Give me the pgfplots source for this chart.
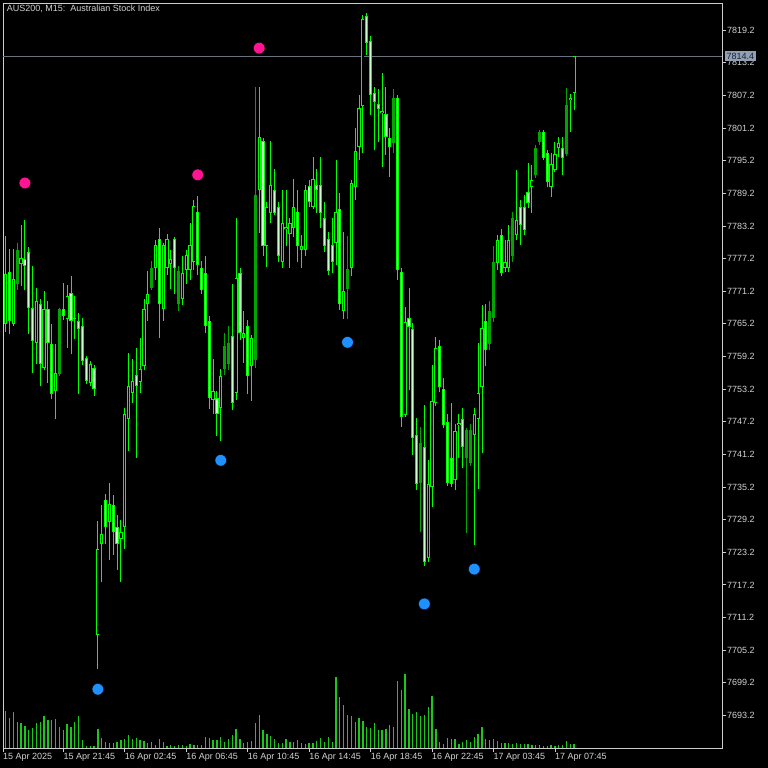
\documentclass[border=0pt]{standalone}
\usepackage{pgfplots}
\pgfplotsset{compat=1.18}
\usepackage{pgfplotstable}
\usepackage{fontspec}
\setmainfont{Liberation Sans}

\definecolor{cl}{RGB}{0,255,0}
\definecolor{cdk}{RGB}{0,165,0}
\definecolor{cpale}{RGB}{200,255,200}
\definecolor{volc}{RGB}{25,200,25}
\definecolor{pinkdot}{RGB}{255,20,147}
\definecolor{bluedot}{RGB}{30,144,255}
\definecolor{framec}{RGB}{205,205,205}
\definecolor{txtc}{RGB}{210,210,210}
\definecolor{bidc}{RGB}{105,115,128}
\definecolor{boxc}{RGB}{145,160,178}
\definecolor{boxt}{RGB}{25,35,55}

% bull candles (hollow)
\pgfplotstableread{
n o h l c
0 7765.2 7781.3 7763.7 7774.3
2 7765.2 7778.9 7764.8 7773.4
4 7776.2 7783.4 7772.1 7777.3
8 7761.7 7771.8 7757.8 7769.4
10 7757.1 7771.2 7756.7 7767.9
13 7752.8 7761.5 7747.7 7756.1
16 7766.1 7772.3 7760.7 7770.3
18 7766.1 7770.3 7762.4 7766.3
22 7754.3 7758.4 7753.8 7757.8
24 7708.0 7728.9 7701.7 7723.8
25 7724.7 7731.9 7717.7 7726.5
27 7728.8 7735.9 7721.8 7732.1
30 7725.6 7729.1 7717.7 7726.9
31 7727.8 7749.7 7723.8 7748.6
32 7747.7 7759.8 7741.8 7753.8
33 7752.5 7758.7 7750.6 7754.7
35 7754.5 7762.6 7752.5 7756.9
36 7757.4 7769.8 7756.7 7767.9
37 7768.8 7774.9 7765.7 7770.7
39 7775.5 7780.6 7773.2 7779.7
41 7767.9 7780.0 7765.7 7779.7
42 7775.5 7781.7 7774.2 7780.8
43 7776.2 7778.8 7771.6 7777.1
46 7769.8 7777.7 7768.6 7774.5
47 7775.1 7778.8 7772.5 7777.8
48 7775.1 7783.7 7773.2 7779.7
49 7776.6 7788.0 7775.1 7786.8
54 7751.2 7758.7 7748.6 7752.8
56 7749.7 7756.9 7743.6 7755.6
60 7752.5 7784.6 7751.2 7773.6
62 7762.6 7767.5 7758.0 7763.5
64 7757.4 7763.1 7751.0 7762.6
66 7789.8 7808.7 7781.9 7799.5
68 7779.5 7787.6 7775.6 7786.7
69 7785.6 7798.8 7783.7 7790.7
72 7776.6 7789.8 7775.5 7783.7
73 7782.6 7789.8 7779.5 7783.0
74 7781.7 7784.6 7775.5 7783.7
75 7782.8 7791.8 7781.2 7786.7
77 7778.8 7781.5 7775.5 7779.5
78 7778.8 7790.7 7777.7 7789.8
80 7786.7 7795.9 7786.3 7791.8
86 7780.0 7795.3 7776.0 7785.7
88 7767.5 7782.1 7766.1 7771.2
90 7775.5 7791.6 7774.0 7791.1
91 7790.3 7801.2 7788.0 7797.0
92 7797.7 7807.3 7795.3 7804.9
93 7805.2 7822.0 7796.6 7821.2
98 7803.9 7811.3 7794.0 7804.3
104 7748.4 7768.3 7748.1 7765.5
110 7722.1 7740.1 7721.4 7735.7
111 7735.2 7757.6 7731.5 7751.0
112 7750.6 7762.8 7750.1 7760.7
117 7736.5 7746.8 7734.6 7745.5
118 7746.6 7748.6 7740.5 7747.0
122 7744.7 7749.7 7724.5 7748.6
123 7747.7 7761.7 7734.8 7752.5
124 7753.6 7768.6 7741.4 7764.4
128 7776.4 7781.5 7775.1 7780.6
130 7775.5 7780.6 7774.7 7776.6
131 7775.5 7783.4 7774.7 7780.6
133 7781.5 7793.5 7780.6 7784.3
137 7790.3 7794.4 7785.6 7791.6
142 7790.3 7796.6 7788.5 7794.6
143 7793.5 7798.6 7793.1 7796.4
144 7797.5 7799.5 7795.9 7798.4
147 7806.3 7807.4 7800.5 7806.7
148 7807.6 7814.4 7804.5 7814.4
}\bull

% bear candles (filled)
\pgfplotstableread{
n o h l c
1 7774.7 7778.9 7763.3 7765.7
5 7777.1 7784.3 7771.4 7775.8
6 7778.4 7779.3 7763.3 7768.1
7 7768.1 7775.8 7756.1 7762.0
9 7768.8 7769.8 7753.8 7757.8
11 7767.9 7769.4 7754.3 7761.7
12 7761.5 7765.2 7751.4 7752.3
15 7767.9 7772.7 7765.9 7766.6
17 7770.9 7774.0 7759.6 7765.7
19 7765.7 7767.2 7752.3 7764.2
20 7764.8 7766.3 7757.6 7758.4
21 7758.9 7759.3 7754.1 7754.7
23 7757.1 7757.6 7751.9 7753.2
26 7732.8 7733.9 7724.7 7727.8
28 7731.9 7733.7 7722.7 7726.9
29 7727.8 7730.0 7719.9 7724.7
34 7755.8 7760.7 7740.5 7753.8
40 7780.8 7782.8 7762.6 7768.8
44 7780.8 7781.2 7770.7 7775.5
50 7785.7 7788.7 7774.2 7776.0
51 7775.5 7776.7 7770.7 7771.4
52 7774.5 7777.7 7763.5 7764.8
53 7765.7 7766.6 7749.5 7751.5
55 7751.5 7752.8 7744.6 7748.6
59 7762.9 7772.5 7749.3 7750.6
61 7774.5 7775.5 7762.2 7763.5
63 7764.8 7765.9 7752.3 7755.6
67 7798.8 7799.4 7777.7 7779.5
70 7789.8 7793.7 7785.2 7785.6
71 7786.7 7787.6 7776.6 7777.7
76 7785.7 7789.8 7776.6 7779.5
79 7790.5 7791.6 7786.7 7787.6
81 7790.7 7793.7 7785.6 7789.8
82 7790.7 7795.9 7782.8 7785.6
83 7784.6 7787.6 7778.4 7779.5
84 7780.8 7782.1 7774.2 7774.9
85 7779.7 7784.6 7774.5 7776.6
87 7786.3 7789.2 7767.7 7768.8
94 7821.8 7822.3 7814.6 7816.8
95 7817.2 7818.1 7803.6 7807.3
96 7807.6 7808.7 7797.1 7806.0
97 7805.6 7808.4 7798.6 7804.7
99 7803.8 7808.7 7796.2 7799.5
100 7799.4 7801.2 7792.2 7797.7
102 7806.7 7807.3 7773.2 7775.1
103 7774.7 7775.5 7746.2 7748.1
105 7766.3 7771.8 7753.0 7764.6
106 7764.2 7765.3 7741.1 7744.2
107 7744.7 7747.9 7734.6 7735.7
109 7742.5 7750.3 7720.7 7721.4
113 7761.1 7762.2 7752.7 7753.6
114 7753.2 7755.2 7746.0 7746.6
115 7747.1 7748.6 7735.4 7735.9
116 7740.5 7750.6 7735.2 7735.7
119 7747.7 7749.7 7738.7 7742.5
125 7765.7 7768.8 7757.4 7760.4
129 7781.5 7782.6 7774.0 7774.5
134 7786.7 7788.0 7779.7 7783.4
135 7786.7 7788.9 7781.5 7782.4
136 7789.4 7794.8 7786.5 7787.4
140 7800.5 7800.8 7795.3 7795.7
141 7796.6 7797.1 7790.3 7791.3
145 7797.5 7799.5 7792.5 7795.7
}\bear

% dark-green candles
\pgfplotstableread{
n o h l c
3 7772.5 7780.0 7771.4 7778.8
14 7756.0 7768.1 7755.6 7767.9
38 7771.8 7776.7 7771.4 7775.5
45 7774.9 7775.8 7767.5 7768.8
57 7756.9 7763.5 7755.8 7761.1
58 7757.8 7764.8 7756.7 7761.7
65 7758.5 7808.7 7757.1 7788.9
89 7771.6 7781.3 7766.1 7775.3
101 7798.4 7808.4 7796.6 7806.7
108 7743.3 7746.2 7726.9 7735.9
120 7745.7 7746.0 7726.7 7740.5
121 7739.6 7746.8 7739.0 7745.7
126 7761.5 7769.4 7760.4 7767.5
127 7766.3 7779.5 7765.5 7776.6
132 7777.7 7785.7 7776.6 7784.6
138 7792.5 7798.1 7792.0 7797.5
139 7798.6 7800.8 7798.1 7800.5
146 7796.4 7808.5 7796.0 7805.4
}\dark

% tick volumes
\pgfplotstableread{
n v
0 367
1 300
2 360
3 260
4 250
5 220
6 180
7 200
8 250
9 260
10 320
11 280
12 280
13 290
14 210
15 180
16 240
17 210
18 260
19 320
20 80
21 20
22 20
23 20
24 190
25 100
26 60
27 50
28 50
29 60
30 80
31 90
32 130
33 90
34 100
35 80
36 70
37 50
38 60
39 30
40 90
41 60
42 20
43 30
44 20
45 30
46 30
47 20
48 40
49 30
50 30
51 30
52 110
53 100
54 80
55 80
56 110
57 60
58 90
59 130
60 190
61 90
62 50
63 60
64 70
65 250
66 330
67 180
68 140
69 120
70 90
71 50
72 50
73 90
74 60
75 60
76 80
77 50
78 40
79 50
80 50
81 70
82 100
83 60
84 110
85 60
86 710
87 510
88 430
89 330
90 320
91 260
92 300
93 270
94 210
95 200
96 250
97 180
98 180
99 190
100 230
101 210
102 670
103 580
104 740
105 390
106 340
107 360
108 320
109 330
110 410
111 520
112 190
113 60
114 40
115 100
116 90
117 90
118 40
119 60
120 80
121 60
122 110
123 140
124 210
125 90
126 80
127 90
128 70
129 50
130 50
131 50
132 40
133 50
134 40
135 40
136 40
137 30
138 30
139 30
140 20
141 20
142 30
143 20
144 30
145 30
146 70
147 40
148 40
}\vol

\pgfplotsset{
  wick/.style={draw=none, mark=none, forget plot,
    error bars/.cd, y dir=plus, y explicit, error mark=none,
    error bar style={draw=#1, line width=0.9pt, solid}},
  body/.style 2 args={draw=none, mark=none, forget plot,
    error bars/.cd, y dir=plus, y explicit, error mark=none,
    error bar style={draw=#1, line width=#2, solid}},
}

\begin{document}
\begin{tikzpicture}
\fill[black] (0,0) rectangle (768pt,768pt);

% volume overlay
\begin{axis}[
  at={(3pt,20pt)}, anchor=south west,
  width=719pt, height=745pt, scale only axis,
  xmin=-0.7, xmax=186.5, ymin=0, ymax=7450,
  hide axis]
\addplot[ycomb, draw=volc, line width=1.3pt, mark=none] table[x=n, y=v] {\vol};
\end{axis}

% price chart
\begin{axis}[
  at={(3pt,20pt)}, anchor=south west,
  width=719pt, height=745pt, scale only axis,
  xmin=-0.7, xmax=186.5, ymin=7687.2, ymax=7824.2,
  axis line style={draw=framec, line width=0.8pt},
  tick align=outside, major tick length=4pt,
  tick style={draw=framec, line width=0.8pt},
  xtick pos=bottom, ytick pos=right, yticklabel pos=right,
  xtick={-0.7,15,31,47,63,79,95,111,127,143},
  xticklabels={15 Apr 2025, 15 Apr 21:45, 16 Apr 02:45, 16 Apr 06:45, 16 Apr 10:45, 16 Apr 14:45, 16 Apr 18:45, 16 Apr 22:45, 17 Apr 03:45, 17 Apr 07:45},
  ytick={7693.2,7699.2,...,7820},
  scaled y ticks=false,
  /pgf/number format/assume math mode=true,
  /pgf/number format/fixed,
  /pgf/number format/fixed zerofill,
  /pgf/number format/precision=1,
  /pgf/number format/1000 sep={},
  tick label style={font=\fontsize{9}{10}\selectfont, text=txtc},
  xticklabel style={anchor=north west, inner xsep=0pt, inner ysep=1.5pt},
  yticklabel style={anchor=west, inner xsep=1pt},
  ]
% bid line
\addplot[draw=bidc, line width=1.2pt, forget plot] coordinates {(-0.7,7814.4) (186.5,7814.4)};
\coordinate (bid) at (axis cs:186.5,7814.4);

% wicks
\addplot[wick=cl] table[x=n, y=l, y error expr=\thisrow{h}-\thisrow{l}] {\bull};
\addplot[wick=cl] table[x=n, y=l, y error expr=\thisrow{h}-\thisrow{l}] {\bear};
\addplot[wick=cdk] table[x=n, y=l, y error expr=\thisrow{h}-\thisrow{l}] {\dark};
% bodies
\addplot[body={cl}{3.2pt}] table[x=n, y expr={min(\thisrow{o},\thisrow{c})}, y error expr={max(abs(\thisrow{c}-\thisrow{o}),0.2)}] {\bull};
\addplot[body={cl}{3.2pt}] table[x=n, y expr={min(\thisrow{o},\thisrow{c})}, y error expr={max(abs(\thisrow{c}-\thisrow{o}),0.2)}] {\bear};
\addplot[body={cdk}{3.2pt}] table[x=n, y expr={min(\thisrow{o},\thisrow{c})}, y error expr={max(abs(\thisrow{c}-\thisrow{o}),0.2)}] {\dark};
% interiors
\addplot[body={black}{1.3pt}] table[x=n, y expr={min(\thisrow{o},\thisrow{c})+0.17}, y error expr={max(abs(\thisrow{c}-\thisrow{o})-0.34,0)}] {\bull};
\addplot[body={cpale}{1.3pt}] table[x=n, y expr={min(\thisrow{o},\thisrow{c})+0.17}, y error expr={max(abs(\thisrow{c}-\thisrow{o})-0.34,0)}] {\bear};

% fractal dots
\addplot[only marks, mark=*, mark size=5.8pt, mark options={fill=pinkdot, draw=none}] coordinates {(5,7791.1) (50,7792.6) (66,7815.9)};
\addplot[only marks, mark=*, mark size=5.8pt, mark options={fill=bluedot, draw=none}] coordinates {(24,7698.0) (56,7740.1) (89,7761.8) (109,7713.7) (122,7720.1)};

\node[anchor=north west, inner sep=1pt, text=txtc, font=\fontsize{9}{10}\selectfont, xshift=2.7pt, yshift=-1pt] at (rel axis cs:0,1) {AUS200, M15:\ \ Australian Stock Index};
\end{axis}

\node[anchor=west, fill=boxc, text=boxt, inner xsep=2pt, inner ysep=2pt, font=\fontsize{9}{10}\selectfont, xshift=2.5pt] at (bid) {7814.4};

\pgfresetboundingbox
\path[use as bounding box] (0,0) rectangle (768pt,768pt);
\end{tikzpicture}
\end{document}
